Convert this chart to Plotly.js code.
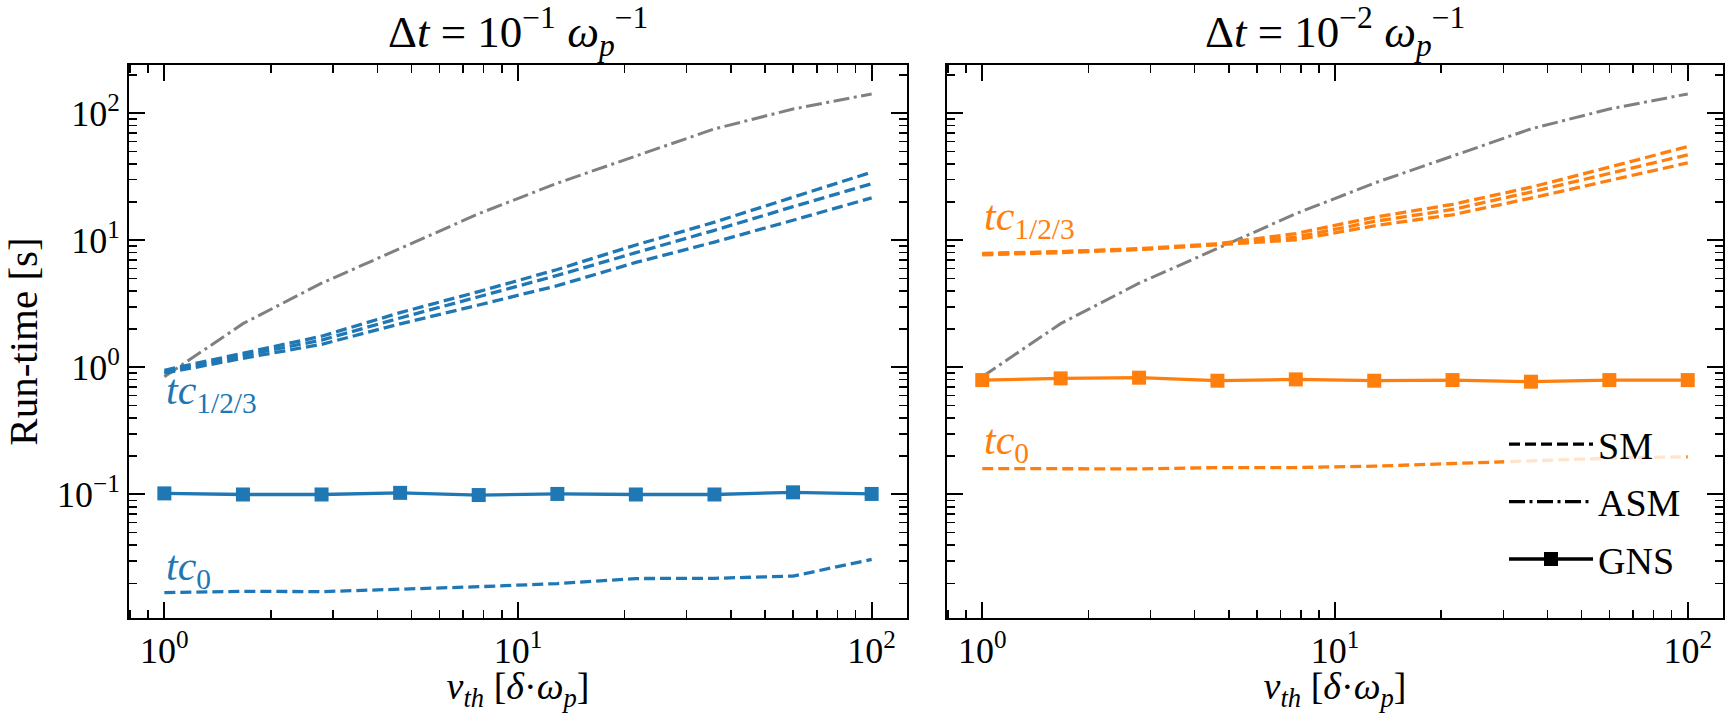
<!DOCTYPE html>
<html><head><meta charset="utf-8">
<script src="https://cdn.plot.ly/plotly-3.0.1.min.js"></script>
<style>body{margin:0;background:#fff}#chart{width:1725px;height:713px}</style>
</head><body><div id="chart"></div>
<script>
// ---- data ----
const vth = [1, 1.668, 2.783, 4.642, 7.743, 12.92, 21.54, 35.94, 59.95, 100];

// panel 1 : dt = 1e-1
const asmLeft  = [0.845, 2.21, 4.6, 8.6, 16.2, 28.2, 45.9, 75.4, 108, 142];
const tc0Left  = [0.0169, 0.0173, 0.0172, 0.0179, 0.0188, 0.0199, 0.0218, 0.0219, 0.0228, 0.0308];
const tc1Left  = [0.95, 1.30, 1.76, 2.70, 3.95, 5.9, 9.2, 13.9, 21.8, 34.4];
const tc2Left  = [0.92, 1.24, 1.64, 2.45, 3.60, 5.3, 8.0, 12.0, 18.4, 27.9];
const tc3Left  = [0.90, 1.18, 1.52, 2.20, 3.10, 4.4, 6.7, 9.7, 14.4, 21.6];
const gnsLeft  = [0.102, 0.100, 0.100, 0.103, 0.099, 0.101, 0.100, 0.100, 0.104, 0.101];

// panel 2 : dt = 1e-2
const asmRight = [0.845, 2.21, 4.6, 8.6, 16.2, 28.2, 45.9, 75.4, 108, 142];
const tc0Right = [0.160, 0.160, 0.159, 0.163, 0.163, 0.167, 0.175, 0.186, 0.193, 0.198];
const tc1Right = [7.9, 8.15, 8.6, 9.4, 11.3, 15.2, 19.2, 26.2, 37.7, 54.7];
const tc2Right = [7.8, 8.10, 8.5, 9.3, 10.6, 14.1, 17.5, 24.0, 33.8, 47.1];
const tc3Right = [7.7, 8.00, 8.45, 9.2, 10.1, 13.0, 15.9, 21.5, 29.6, 40.7];
const gnsRight = [0.795, 0.82, 0.83, 0.786, 0.805, 0.786, 0.795, 0.772, 0.795, 0.795];

// ---- tick labels ----
const xTickVals = [1, 10, 100];
const xTickText = ['10<sup>0</sup>', '10<sup>1</sup>', '10<sup>2</sup>'];
const yTickVals = [0.1, 1, 10, 100];
const yTickText = ['10<sup>\u22121</sup>', '10<sup>0</sup>', '10<sup>1</sup>', '10<sup>2</sup>'];
const legendNames = ['SM', 'ASM', 'GNS'];
const panelTitles = ['\u0394<i>t</i> = 10<sup>\u22121</sup> <i>\u03c9</i><sub><i>p</i></sub><sup>\u22121</sup>',
                     '\u0394<i>t</i> = 10<sup>\u22122</sup> <i>\u03c9</i><sub><i>p</i></sub><sup>\u22121</sup>'];

// ---- style ----
const FONT = 'Liberation Serif';
const BLUE = '#1f77b4', ORANGE = '#ff7f0e', GRAY = '#808080';
const DASH = '11px,5px';
const DASHDOT = '16px,4.5px,3px,4.5px';

const minorVals = [];
for (let d = -2; d <= 2; d++) for (let k = 2; k <= 9; k++) minorVals.push(k * Math.pow(10, d));
minorVals.push(0.8, 0.9);

function axis(extra) {
  return Object.assign({
    type: 'log', showgrid: false, zeroline: false,
    showline: true, linecolor: '#000', linewidth: 2, mirror: 'ticks',
    ticks: 'inside', ticklen: 16, tickwidth: 2, tickcolor: '#000',
    tickfont: {family: FONT, size: 36, color: '#000'},
    minor: {tickmode: 'array', tickvals: minorVals, ticks: 'inside', ticklen: 8, tickwidth: 1.5, tickcolor: '#000', showgrid: false}
  }, extra);
}

function line(x, y, xa, ya, color, dash, width) {
  return {x: x, y: y, xaxis: xa, yaxis: ya, mode: 'lines', showlegend: false, hoverinfo: 'skip',
          line: {color: color, dash: dash, width: width}};
}
function gns(x, y, xa, ya, color) {
  return {x: x, y: y, xaxis: xa, yaxis: ya, mode: 'lines+markers', showlegend: false,
          line: {color: color, width: 3.3}, marker: {symbol: 'square', size: 14, color: color}};
}

const traces = [
  line(vth, asmLeft, 'x', 'y', GRAY, DASHDOT, 3),
  line(vth, tc0Left, 'x', 'y', BLUE, DASH, 3.3),
  line(vth, tc1Left, 'x', 'y', BLUE, DASH, 3.3),
  line(vth, tc2Left, 'x', 'y', BLUE, DASH, 3.3),
  line(vth, tc3Left, 'x', 'y', BLUE, DASH, 3.3),
  gns(vth, gnsLeft, 'x', 'y', BLUE),
  line(vth, asmRight, 'x2', 'y2', GRAY, DASHDOT, 3),
  line(vth, tc0Right, 'x2', 'y2', ORANGE, DASH, 3.3),
  line(vth, tc1Right, 'x2', 'y2', ORANGE, DASH, 3.3),
  line(vth, tc2Right, 'x2', 'y2', ORANGE, DASH, 3.3),
  line(vth, tc3Right, 'x2', 'y2', ORANGE, DASH, 3.3),
  gns(vth, gnsRight, 'x2', 'y2', ORANGE),
  // legend entries
  {x: [null], y: [null], xaxis: 'x2', yaxis: 'y2', mode: 'lines', name: legendNames[0], legendgroup: 'a',
   line: {color: '#000', dash: DASH, width: 3.3}},
  {x: [null], y: [null], xaxis: 'x2', yaxis: 'y2', mode: 'lines', name: legendNames[1], legendgroup: 'b',
   line: {color: '#000', dash: DASHDOT, width: 3.3}},
  {x: [null], y: [null], xaxis: 'x2', yaxis: 'y2', mode: 'lines+markers', name: legendNames[2], legendgroup: 'c',
   line: {color: '#000', width: 3.3}, marker: {symbol: 'square', size: 14, color: '#000'}}
];

const ML = 129, MR = 2, MT = 65, MB = 95, W = 1725, H = 713;
const PW = W - ML - MR;
const d1 = [0, (907 - ML) / PW];
const d2 = [(947 - ML) / PW, 1];
const xr = [-0.1, 2.1];
const yr = [-1.972, 2.38];
const xTitle = '<i>v</i><sub><i>th</i></sub> [<i>\u03b4</i>\u00b7<i>\u03c9</i><sub><i>p</i></sub>]';

const annFont = (c, s) => ({family: FONT, size: s, color: c});
const layout = {
  width: W, height: H,
  margin: {l: ML, r: MR, t: MT, b: MB},
  paper_bgcolor: '#fff', plot_bgcolor: '#fff',
  font: {family: FONT, color: '#000'},
  xaxis: axis({domain: d1, range: xr, anchor: 'y', tickmode: 'array', tickvals: xTickVals, ticktext: xTickText,
    title: {text: xTitle, font: {family: FONT, size: 38}, standoff: 15}}),
  yaxis: axis({domain: [0, 1], range: yr, anchor: 'x', tickmode: 'array', tickvals: yTickVals, ticktext: yTickText,
    title: {text: 'Run-time [s]', font: {family: FONT, size: 41}, standoff: 8}}),
  xaxis2: axis({domain: d2, range: xr, anchor: 'y2', tickmode: 'array', tickvals: xTickVals, ticktext: xTickText,
    title: {text: xTitle, font: {family: FONT, size: 38}, standoff: 15}}),
  yaxis2: axis({domain: [0, 1], range: yr, anchor: 'x2', matches: 'y', tickmode: 'array', tickvals: yTickVals, ticktext: yTickText, showticklabels: false}),
  showlegend: true,
  legend: {x: (1504 - ML) / PW, y: 1 - (413 - MT) / 553, xanchor: 'left', yanchor: 'top',
    bgcolor: 'rgba(255,255,255,0.8)', borderwidth: 0, font: {family: FONT, size: 38, color: '#000'},
    itemwidth: 84, tracegroupgap: 5},
  annotations: [
    {xref: 'paper', yref: 'paper', x: (d1[0] + d1[1]) / 2, y: 1.0, xanchor: 'center', yanchor: 'bottom', showarrow: false,
     text: panelTitles[0], font: annFont('#000', 45)},
    {xref: 'paper', yref: 'paper', x: (d2[0] + d2[1]) / 2, y: 1.0, xanchor: 'center', yanchor: 'bottom', showarrow: false,
     text: panelTitles[1], font: annFont('#000', 45)},
    {xref: 'x', yref: 'y', x: 0, y: -0.2, xanchor: 'left', yanchor: 'middle', showarrow: false,
     text: '<i>tc</i><sub>1/2/3</sub>', font: annFont(BLUE, 42)},
    {xref: 'x', yref: 'y', x: 0, y: -1.587, xanchor: 'left', yanchor: 'middle', showarrow: false,
     text: '<i>tc</i><sub>0</sub>', font: annFont(BLUE, 42)},
    {xref: 'x2', yref: 'y2', x: 0, y: 1.17, xanchor: 'left', yanchor: 'middle', showarrow: false,
     text: '<i>tc</i><sub>1/2/3</sub>', font: annFont(ORANGE, 42)},
    {xref: 'x2', yref: 'y2', x: 0, y: -0.595, xanchor: 'left', yanchor: 'middle', showarrow: false,
     text: '<i>tc</i><sub>0</sub>', font: annFont(ORANGE, 42)}
  ]
};

Plotly.newPlot('chart', traces, layout, {staticPlot: true, displayModeBar: false});
</script>
</body></html>
